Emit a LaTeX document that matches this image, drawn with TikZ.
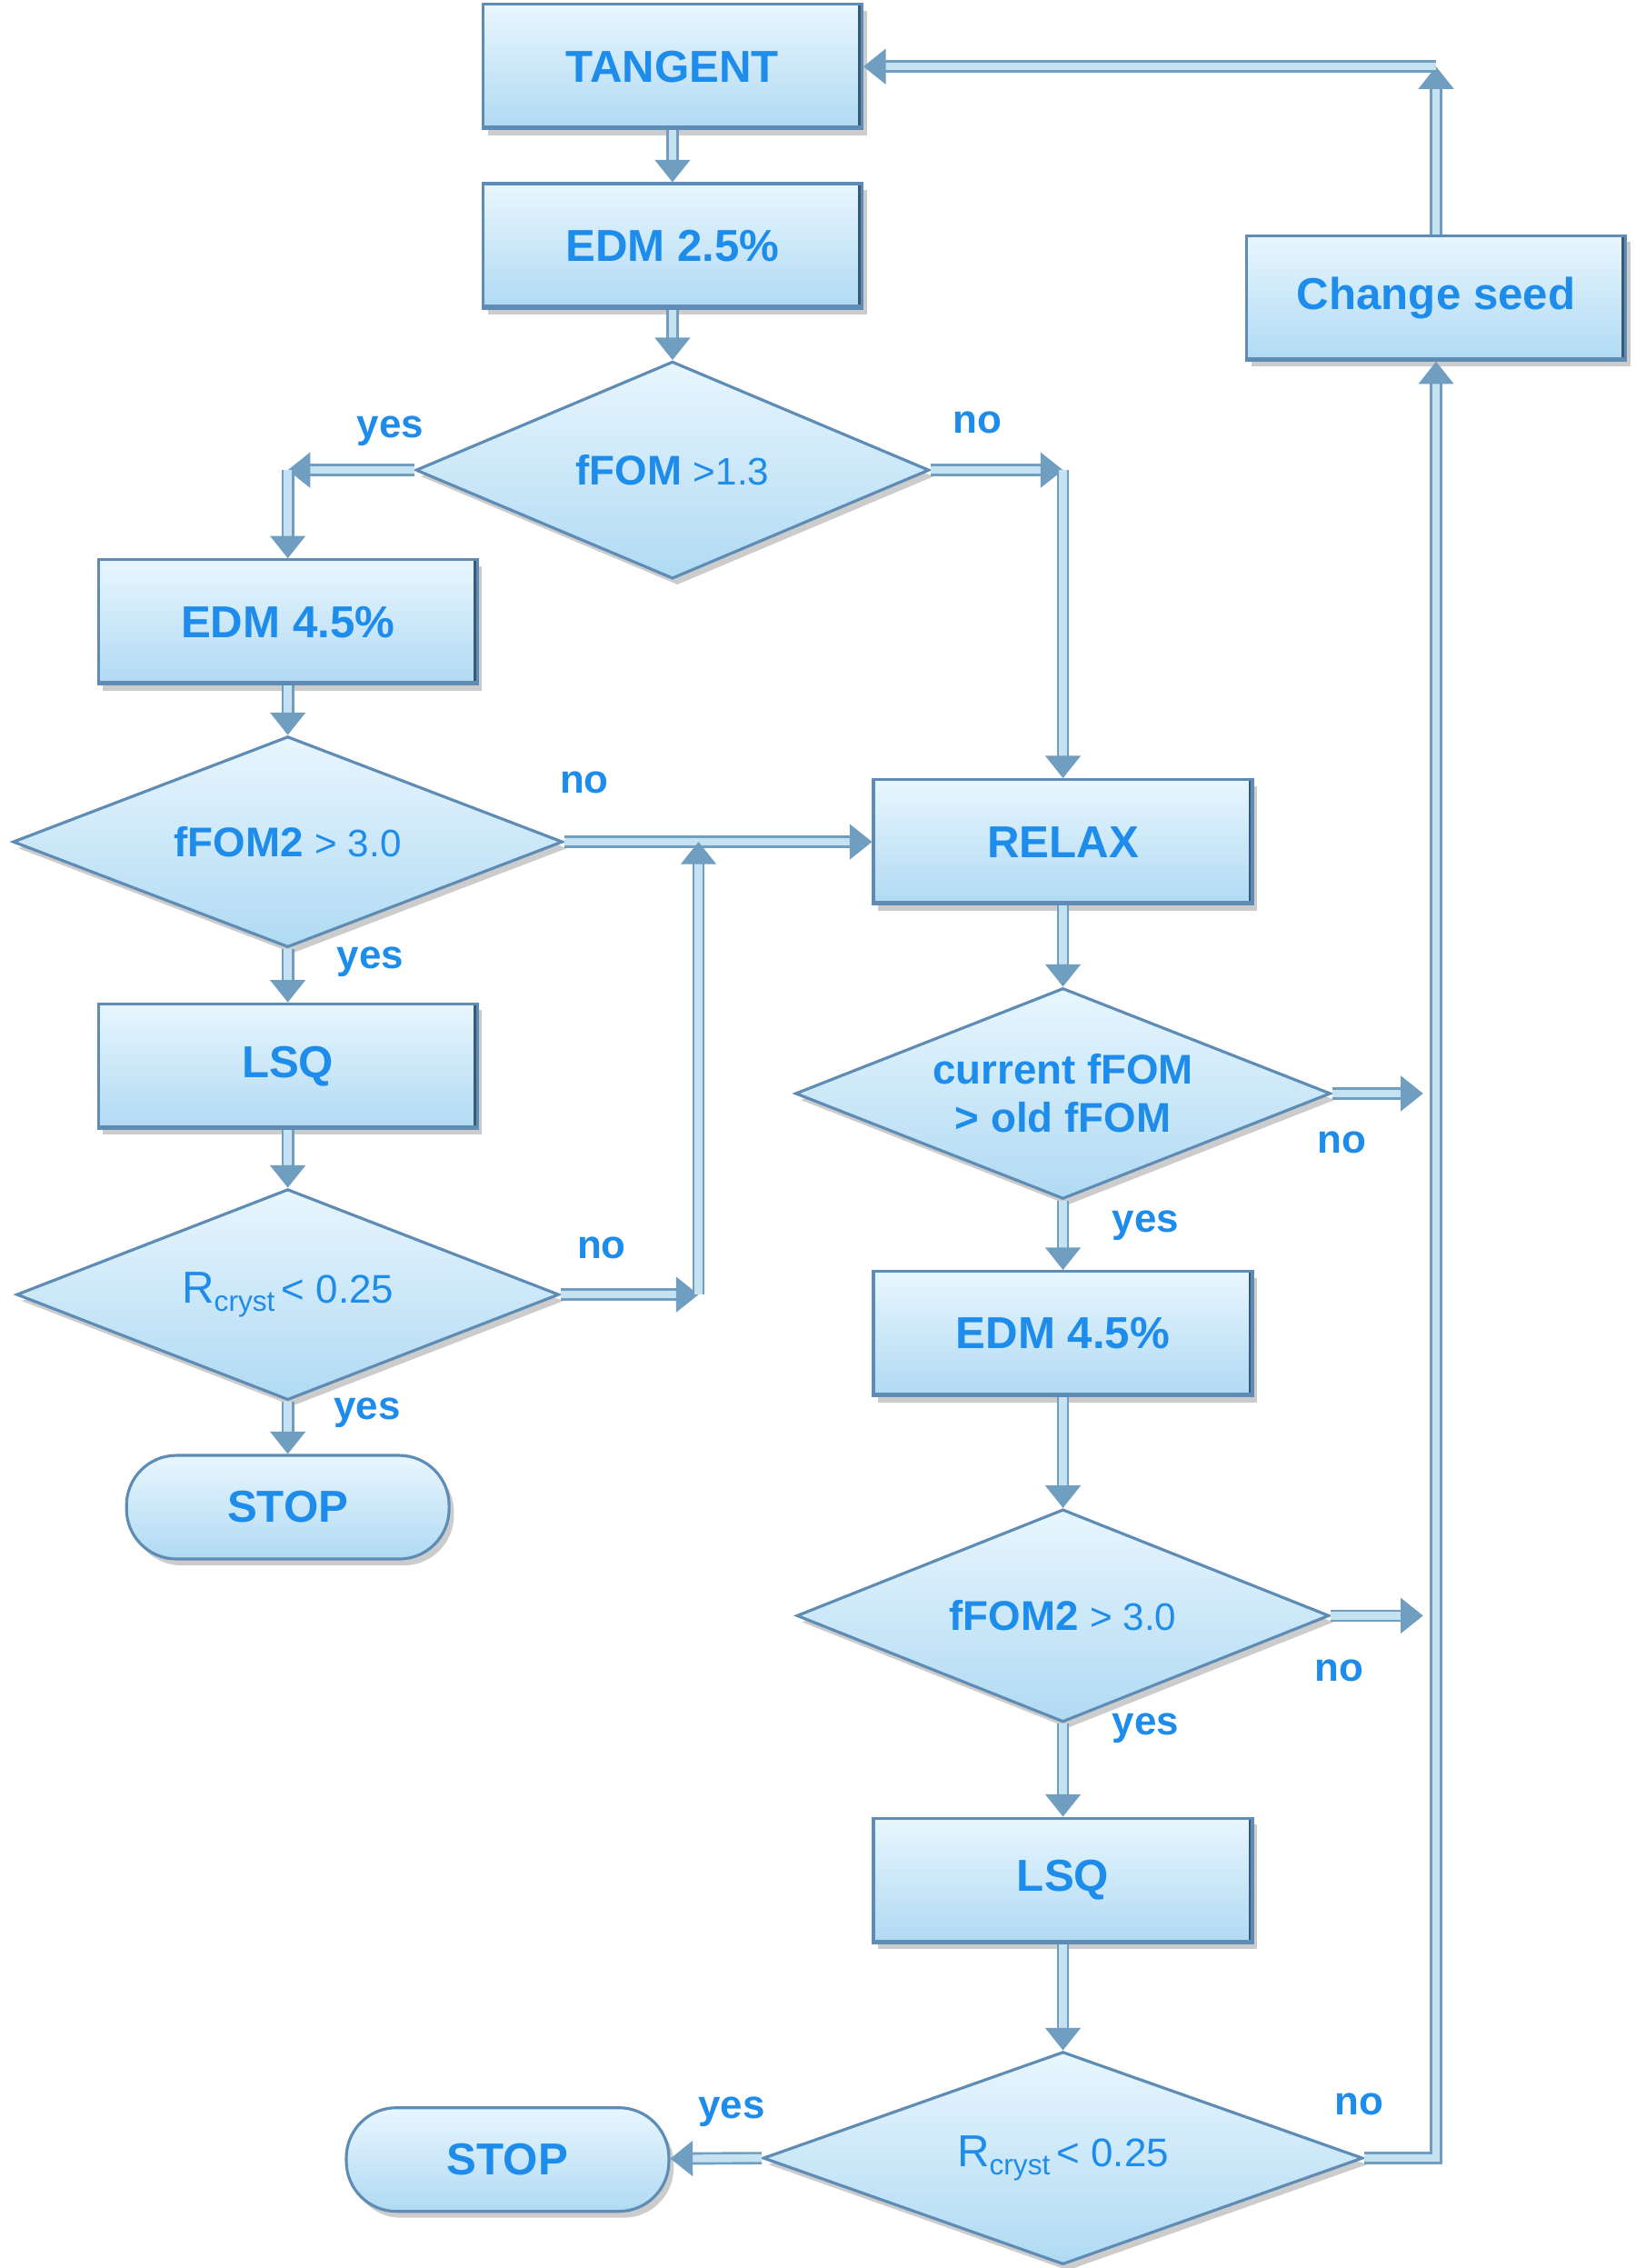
\documentclass[tikz,border=0pt]{standalone}
\usepackage{fontspec}
\setmainfont{Liberation Sans}
\usetikzlibrary{shapes.geometric}
\usetikzlibrary{arrows.meta}
\usetikzlibrary{shadows}
\definecolor{mtext}{RGB}{30,140,235}
\definecolor{mtop}{RGB}{232,246,254}
\definecolor{mbot}{RGB}{176,218,243}
\definecolor{medge}{RGB}{95,140,180}
\definecolor{mdark}{RGB}{55,90,120}
\definecolor{mpipe}{RGB}{196,226,242}
\definecolor{mpipeedge}{RGB}{112,158,192}
\newcommand{\thr}[1]{{\mdseries\fontsize{12}{14}\selectfont #1}}
\newcommand{\rcryst}{{\mdseries\fontsize{14}{16}\selectfont R\raisebox{-0.35ex}{\fontsize{9}{10}\selectfont cryst}\fontsize{12.5}{14}\selectfont\,< 0.25}}

\begin{document}
\begin{tikzpicture}[x=0.015915cm, y=-0.015915cm,
    module/.style={draw=medge, line width=0.9pt, top color=mtop, bottom color=mbot, text=mtext, inner sep=0pt,
        drop shadow={shadow xshift=1.5pt, shadow yshift=-2pt, opacity=0.4}},
    process/.style={module, rectangle, minimum width=4.17cm, minimum height=1.37cm, font=\bfseries\fontsize{14}{16}\selectfont,
        path picture={\draw[mdark, line width=2.5pt] (path picture bounding box.north east) -- (path picture bounding box.south east);
                      \draw[medge, line width=2pt] (path picture bounding box.south west) -- (path picture bounding box.south east);}},
    decision/.style={module, diamond, aspect=2.5, align=center, font=\bfseries\fontsize{13}{15}\selectfont},
    terminal/.style={module, rectangle, rounded corners=0.55cm, minimum width=3.55cm, minimum height=1.14cm, font=\bfseries\fontsize{14}{16}\selectfont},
    arrow/.style={draw=mpipeedge, double=mpipe, double distance=2.4pt, line width=0.75pt, -{Triangle[length=7pt,width=11pt]}},
    answer/.style={text=mtext, font=\bfseries\fontsize{12.5}{14}\selectfont},
]
\fill[white] (0,0) rectangle (1131,1568);

% top column
\node[process] (tangent) at (465,46) {TANGENT};
\node[process] (edm25) at (465,170) {EDM 2.5\%};
\node[decision, minimum width=5.65cm, minimum height=2.39cm] (fom1) at (465,325) {fFOM \thr{>1.3}};

% left column
\node[process] (edm45a) at (199,430) {EDM 4.5\%};
\node[decision, minimum width=6.05cm, minimum height=2.32cm] (fom2a) at (199,582) {fFOM2 \thr{> 3.0}};
\node[process] (lsqa) at (199,737) {LSQ};
\node[decision, minimum width=5.97cm, minimum height=2.32cm] (ra) at (199,895) {\rcryst};
\node[terminal] (stopa) at (199,1042) {STOP};

% right column
\node[process] (relax) at (735,582) {RELAX};
\node[decision, minimum width=5.89cm, minimum height=2.32cm] (cmp) at (735,756) {current fFOM\\> old fFOM};
\node[process] (edm45b) at (735,922) {EDM 4.5\%};
\node[decision, minimum width=5.86cm, minimum height=2.34cm] (fom2b) at (735,1117) {fFOM2 \thr{> 3.0}};
\node[process] (lsqb) at (735,1300) {LSQ};
\node[decision, minimum width=6.6cm, minimum height=2.34cm] (rb) at (735,1492) {\rcryst};
\node[terminal] (stopb) at (351,1493) {STOP};
\node[process] (seed) at (993,206) {Change seed};

\coordinate (yesturn) at (199,325);
\coordinate (noturn) at (735,325);
\coordinate (rajoin) at (483,895);
\coordinate (relaxjoin) at (483,582);
\coordinate (cmpend) at (984,756);
\coordinate (fomend) at (984,1117);
\coordinate (seedturn) at (993,46);

\draw[arrow] (tangent) -- (edm25);
\draw[arrow] (edm25) -- (fom1);
\draw[arrow] (fom1.west) -- (yesturn);
\draw[arrow] (yesturn) -- (edm45a);
\draw[arrow] (fom1.east) -- (noturn);
\draw[arrow] (noturn) -- (relax);
\draw[arrow] (edm45a) -- (fom2a);
\draw[arrow] (fom2a.east) -- (relax.west);
\draw[arrow] (fom2a) -- (lsqa);
\draw[arrow] (lsqa) -- (ra);
\draw[arrow] (ra.east) -- (rajoin);
\draw[arrow] (rajoin) -- (relaxjoin);
\draw[arrow] (ra) -- (stopa);
\draw[arrow] (relax) -- (cmp);
\draw[arrow] (cmp.east) -- (cmpend);
\draw[arrow] (cmp) -- (edm45b);
\draw[arrow] (edm45b) -- (fom2b);
\draw[arrow] (fom2b.east) -- (fomend);
\draw[arrow] (fom2b) -- (lsqb);
\draw[arrow] (lsqb) -- (rb);
\draw[arrow] (rb.west) -- (stopb);
\draw[arrow] (rb.east) -| (seed.south);
\draw[arrow] (seed.north) -- (seedturn);
\draw[arrow] (seedturn) -- (tangent.east);

\node[answer] (yes1) at (270,298) {yes};
\node[answer] (no1) at (676,292) {no};
\node[answer] (no2) at (404,541) {no};
\node[answer] (yes2) at (256,665) {yes};
\node[answer] (no3) at (416,863) {no};
\node[answer] (yes3) at (254,977) {yes};
\node[answer] (no4) at (928,790) {no};
\node[answer] (yes4) at (792,847) {yes};
\node[answer] (no5) at (926,1155) {no};
\node[answer] (yes5) at (792,1195) {yes};
\node[answer] (yes6) at (506,1460) {yes};
\node[answer] (no6) at (940,1455) {no};
\end{tikzpicture}
\end{document}
